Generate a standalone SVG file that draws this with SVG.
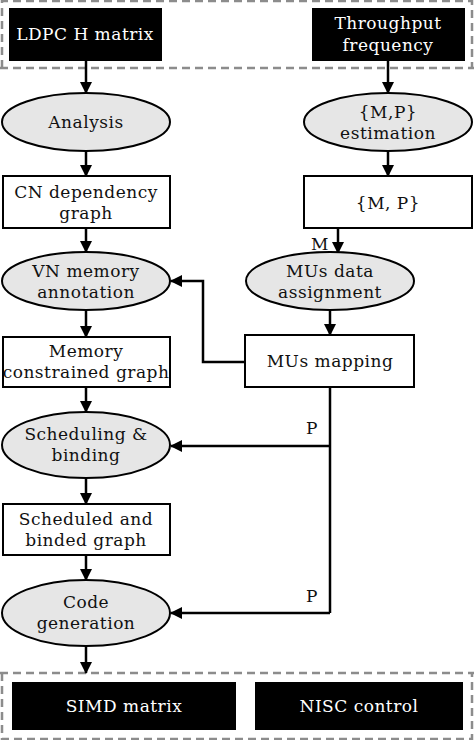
<svg xmlns="http://www.w3.org/2000/svg" width="474" height="740" viewBox="0 0 474 740">
<style>
text{font-family:"DejaVu Serif","Liberation Serif",serif;font-size:17px;letter-spacing:0.5px;text-anchor:middle;fill:#111}
.w{fill:#fff}
.io{fill:#000;stroke:none}
.proc{fill:#e6e6e6;stroke:#000;stroke-width:2}
.data{fill:#fff;stroke:#000;stroke-width:2}
.dash{fill:none;stroke:#8c8c8c;stroke-width:2.5;stroke-dasharray:8 5}
.c{fill:none;stroke:#000;stroke-width:2.5}
</style>
<defs>
<marker id="ah" markerWidth="12" markerHeight="12" refX="11" refY="6" orient="auto" markerUnits="userSpaceOnUse" viewBox="0 0 12 12">
<path d="M0,0 L12,6 L0,12 z" fill="#000"/>
</marker>
</defs>
<rect width="474" height="740" fill="#fff"/>
<g id="frames">
<path class="dash" d="M2,68 V1 H472 V68"/>
<line class="dash" x1="0" y1="68" x2="474" y2="68"/>
<path class="dash" d="M2,673 V739 H472 V673"/>
<line class="dash" x1="0" y1="673" x2="474" y2="673"/>
</g>
<g id="connectors">
<line class="c" x1="86" y1="61" x2="86" y2="93" marker-end="url(#ah)"/>
<line class="c" x1="388" y1="61" x2="388" y2="93" marker-end="url(#ah)"/>
<line class="c" x1="86" y1="151" x2="86" y2="176" marker-end="url(#ah)"/>
<line class="c" x1="388" y1="151" x2="388" y2="176" marker-end="url(#ah)"/>
<line class="c" x1="86" y1="228" x2="86" y2="252" marker-end="url(#ah)"/>
<line class="c" x1="338" y1="228" x2="338" y2="253" marker-end="url(#ah)"/>
<text x="320" y="250">M</text>
<line class="c" x1="330" y1="311" x2="330" y2="335" marker-end="url(#ah)"/>
<path class="c" d="M245,362 H203 V281 H171" marker-end="url(#ah)"/>
<line class="c" x1="86" y1="311" x2="86" y2="337" marker-end="url(#ah)"/>
<line class="c" x1="86" y1="387" x2="86" y2="412" marker-end="url(#ah)"/>
<path class="c" d="M330,387 V613"/>
<line class="c" x1="330" y1="446" x2="171" y2="446" marker-end="url(#ah)"/>
<text x="312" y="434">P</text>
<line class="c" x1="86" y1="479" x2="86" y2="504" marker-end="url(#ah)"/>
<line class="c" x1="86" y1="555" x2="86" y2="580" marker-end="url(#ah)"/>
<path class="c" d="M330,613 H171" marker-end="url(#ah)"/>
<text x="312" y="602">P</text>
<line class="c" x1="86" y1="647" x2="86" y2="673" marker-end="url(#ah)"/>
</g>
<g id="ldpc">
<rect class="io" x="9" y="8" width="153" height="53"/>
<text class="w" x="85" y="40">LDPC H matrix</text>
</g>
<g id="throughput">
<rect class="io" x="312" y="8" width="153" height="53"/>
<text class="w" x="388" y="29">Throughput</text>
<text class="w" x="388" y="51">frequency</text>
</g>
<g id="analysis">
<ellipse class="proc" cx="86" cy="122" rx="84" ry="29"/>
<text x="86" y="128">Analysis</text>
</g>
<g id="mp-estimation">
<ellipse class="proc" cx="388" cy="122" rx="84" ry="29"/>
<text x="388" y="118">{M,P}</text>
<text x="388" y="139">estimation</text>
</g>
<g id="cn-graph">
<rect class="data" x="3" y="176" width="167" height="52"/>
<text x="86" y="198">CN dependency</text>
<text x="86" y="219">graph</text>
</g>
<g id="mp-box">
<rect class="data" x="304" y="176" width="168" height="52"/>
<text x="388" y="209">{M, P}</text>
</g>
<g id="vn-annotation">
<ellipse class="proc" cx="86" cy="281" rx="84" ry="29"/>
<text x="86" y="277">VN memory</text>
<text x="86" y="298">annotation</text>
</g>
<g id="mus-assignment">
<ellipse class="proc" cx="330" cy="281" rx="84" ry="29"/>
<text x="330" y="277">MUs data</text>
<text x="330" y="298">assignment</text>
</g>
<g id="memory-graph">
<rect class="data" x="3" y="337" width="167" height="50"/>
<text x="86" y="357">Memory</text>
<text x="86" y="378">constrained graph</text>
</g>
<g id="mus-mapping">
<rect class="data" x="245" y="335" width="169" height="52"/>
<text x="330" y="367">MUs mapping</text>
</g>
<g id="scheduling">
<ellipse class="proc" cx="86" cy="445" rx="84" ry="33"/>
<text x="86" y="440">Scheduling &amp;</text>
<text x="86" y="461">binding</text>
</g>
<g id="scheduled-graph">
<rect class="data" x="3" y="504" width="167" height="51"/>
<text x="86" y="525">Scheduled and</text>
<text x="86" y="546">binded graph</text>
</g>
<g id="code-generation">
<ellipse class="proc" cx="86" cy="613" rx="84" ry="33"/>
<text x="86" y="608">Code</text>
<text x="86" y="629">generation</text>
</g>
<g id="simd">
<rect class="io" x="12" y="682" width="224" height="48"/>
<text class="w" x="124" y="712">SIMD matrix</text>
</g>
<g id="nisc">
<rect class="io" x="255" y="682" width="208" height="48"/>
<text class="w" x="359" y="712">NISC control</text>
</g>
</svg>
